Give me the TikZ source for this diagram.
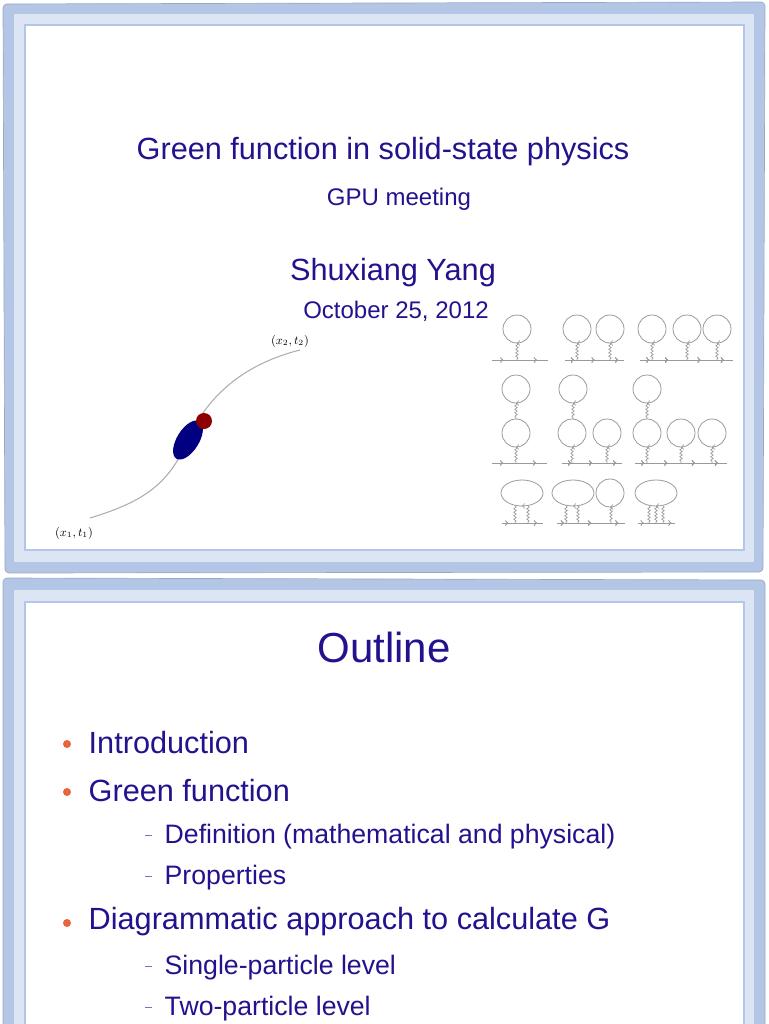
\documentclass[tikz,border=0pt]{standalone}
\usepackage{fontspec}
\setmainfont{Liberation Sans}
\usetikzlibrary{decorations.pathmorphing,decorations.markings}
\definecolor{tblue}{HTML}{22128E}
\definecolor{fblue}{HTML}{B3C6E6}
\definecolor{fblue2}{HTML}{DCE5F4}
\definecolor{borange}{HTML}{E8643C}
\definecolor{fgray}{HTML}{9A9A9A}
\tikzset{
  frameout/.style={fill=fblue,draw=fblue!85!black,line width=0.5pt,rounded corners=3pt},
  framemid/.style={fill=fblue2,draw=none},
  framein/.style={fill=white,draw=fblue,line width=0.8pt},
  ttl/.style={text=tblue,font=\fontsize{23}{26}\selectfont},
  sub/.style={text=tblue,font=\fontsize{18}{21}\selectfont},
  big/.style={text=tblue,font=\fontsize{31.5}{36}\selectfont},
  item/.style={text=tblue,font=\fontsize{23}{26}\selectfont,anchor=west},
  subitem/.style={text=tblue,font=\fontsize{20}{23}\selectfont,anchor=west},
  fl/.style={fgray,line width=0.6pt},
  wv/.style={fgray,line width=0.5pt,decorate,decoration={snake,amplitude=0.9pt,segment length=2.6pt}},
  ar/.style={postaction={decorate},decoration={markings,mark=at position #1 with {\arrow[fgray]{>}}}},
}
\newcommand{\loopat}[3]{\draw[fl,ar=0.25] (#1,#2) circle[radius=#3];}
\newcommand{\ellat}[3]{\draw[fl,ar=0.25] (#1,#2) ellipse[x radius=#3,y radius=13];}
\begin{document}
\begin{tikzpicture}[x=0.75pt,y=-0.75pt]
\useasboundingbox (0,0) rectangle (768,1024);
\fill[white] (0,0) rectangle (768,1024);
% slide frames
\draw[frameout] (3,4) -- (765,2) -- (763,572) -- (5,573) -- cycle;
\fill[framemid] (14,14) rectangle (754,562);
\draw[framein] (25,25) rectangle (744,550);
\draw[frameout] (3,578) -- (765,580) -- (765,1030) -- (3,1030) -- cycle;
\fill[framemid] (14,590) rectangle (754,1030);
\draw[framein] (25,602) rectangle (744,1030);
% title
\node[ttl] (title) at (383,152) {Green function in solid-state physics};
\node[sub] (meet) at (399,199) {GPU meeting};
\node[ttl] (auth) at (393,273) {Shuxiang Yang};
\node[sub] (date) at (396,311) {October 25, 2012};
% propagator picture
\coordinate (p1) at (90,518);
\coordinate (p2) at (300,350);
\draw[fgray!80,line width=0.8pt] (p1) .. controls (150,500) and (170,480) .. (188,440)
  .. controls (205,400) and (240,365) .. (p2);
\fill[blue!50!black,rotate around={58:(188,440)}] (188,440) ellipse[x radius=22,y radius=11];
\fill[red!55!black] (204,421) circle[radius=8];
\node[font=\small] (l1) at (74,533) {$(x_1,t_1)$};
\node[font=\small] (l2) at (290,341) {$(x_2,t_2)$};
% Feynman diagrams row 1
\draw[fl,ar=0.2,ar=0.8] (492,360) -- (548,360);
\loopat{517}{329}{14} \draw[wv] (517,343) -- (517,360);
\draw[fl,ar=0.15,ar=0.5,ar=0.9] (565,360) -- (624,360);
\loopat{577}{329}{14} \draw[wv] (577,343) -- (577,360);
\loopat{610}{329}{14} \draw[wv] (610,343) -- (610,360);
\draw[fl,ar=0.1,ar=0.3,ar=0.65,ar=0.9] (640,360) -- (733,360);
\loopat{652}{329}{14} \draw[wv] (652,343) -- (652,360);
\loopat{687}{329}{14} \draw[wv] (687,343) -- (687,360);
\loopat{717}{329}{14} \draw[wv] (717,343) -- (717,360);
% row 2
\draw[fl,ar=0.2,ar=0.8] (492,463) -- (547,463);
\loopat{516}{389}{14} \draw[wv] (516,403) -- (516,419);
\loopat{516}{433}{14} \draw[wv] (516,447) -- (516,463);
\draw[fl,ar=0.15,ar=0.5,ar=0.9] (562,463) -- (622,463);
\loopat{573}{389}{14} \draw[wv] (573,403) -- (573,419);
\loopat{572}{433}{14} \draw[wv] (572,447) -- (572,463);
\loopat{607}{433}{14} \draw[wv] (607,447) -- (607,463);
\draw[fl,ar=0.1,ar=0.35,ar=0.65,ar=0.9] (635,463) -- (727,463);
\loopat{647}{389}{14} \draw[wv] (647,403) -- (647,419);
\loopat{647}{433}{14} \draw[wv] (647,447) -- (647,463);
\loopat{681}{433}{14} \draw[wv] (681,447) -- (681,463);
\loopat{712}{433}{14} \draw[wv] (712,447) -- (712,463);
% row 3
\draw[fl,ar=0.15,ar=0.85] (502,523) -- (543,523);
\ellat{522}{493}{21}
\draw[wv] (515,506) -- (515,523); \draw[wv] (528,506) -- (528,523);
\draw[fl,ar=0.1,ar=0.5,ar=0.9] (557,523) -- (625,523);
\ellat{573}{493}{21} \loopat{610}{493}{14}
\draw[wv] (566,506) -- (566,523); \draw[wv] (578,506) -- (578,523);
\draw[wv] (611,507) -- (611,523);
\draw[fl,ar=0.15,ar=0.9] (638,523) -- (675,523);
\ellat{656}{493}{21}
\draw[wv] (649,506) -- (649,523); \draw[wv] (656,506) -- (656,523); \draw[wv] (663,506) -- (663,523);
% Outline slide
\node[big] (outline) at (384,647) {Outline};
\foreach \y/\t in {743/Introduction,791/Green function,922/Diagrammatic approach to calculate G}{
  \fill[borange] (67,\y+1) circle[radius=4];
  \node[item] at (84,\y) {\t};
}
\foreach \y/\t in {837/Definition (mathematical and physical),878/Properties,968/Single-particle level,1009/Two-particle level}{
  \draw[tblue!60,line width=0.7pt] (145,\y-2) -- (152,\y-2);
  \node[subitem] at (160,\y) {\t};
}
\end{tikzpicture}
\end{document}
